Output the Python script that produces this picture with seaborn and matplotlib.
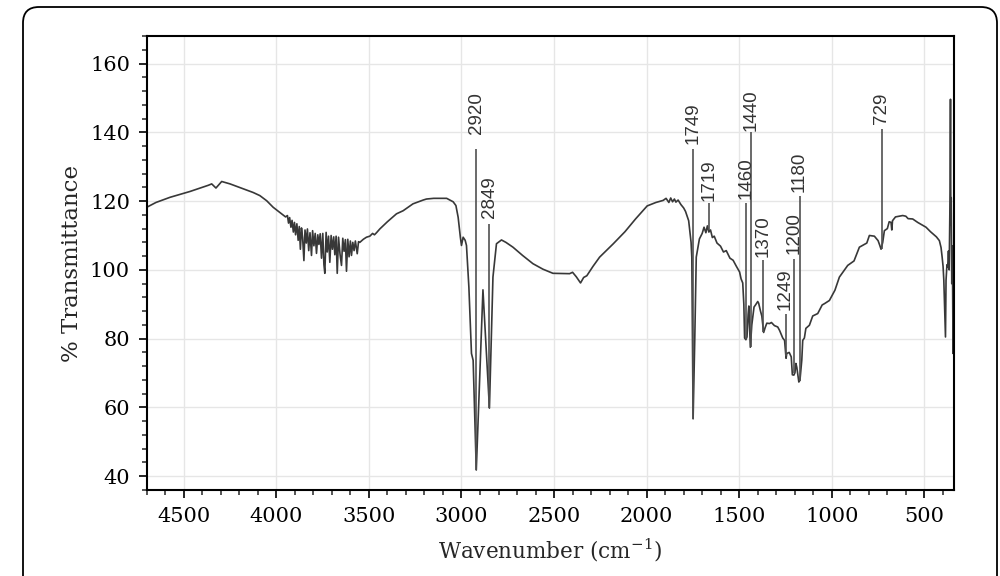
#!/usr/bin/env python3
"""
FTIR spectrum (% transmittance vs wavenumber) with labelled absorption bands
"""

import numpy as np
import pandas as pd
import matplotlib
matplotlib.use('Agg')
import matplotlib.pyplot as plt
import matplotlib.patches as mpatches
from matplotlib.transforms import IdentityTransform
from matplotlib.ticker import MultipleLocator
import seaborn as sns

# Spectrum (wavenumber in cm-1, % transmittance)
wavenumber = [
    4700, 4650, 4574, 4466, 4367, 4349, 4326, 4295, 4250, 4190, 4125, 4089, 4052, 4017, 3981, 3950,
    3940, 3934, 3928, 3921, 3915, 3908, 3902, 3896, 3889, 3882, 3876, 3870, 3864, 3858, 3851, 3845,
    3838, 3832, 3825, 3818, 3810, 3804, 3797, 3790, 3783, 3776, 3770, 3763, 3756, 3749, 3743, 3738,
    3731, 3725, 3718, 3711, 3704, 3697, 3690, 3684, 3677, 3671, 3664, 3656, 3648, 3641, 3634, 3627,
    3621, 3614, 3607, 3600, 3594, 3587, 3580, 3573, 3563, 3556, 3549, 3530, 3513, 3495, 3480, 3470,
    3459, 3441, 3400, 3351, 3315, 3262, 3207, 3189, 3150, 3117, 3080, 3045, 3030, 3018, 3006, 3000,
    2991, 2980, 2973, 2960, 2946, 2937, 2920, 2884, 2849, 2830, 2811, 2784, 2760, 2722, 2670, 2614,
    2560, 2506, 2416, 2400, 2380, 2357, 2340, 2323, 2290, 2254, 2180, 2117, 2060, 1997, 1950, 1911,
    1895, 1880, 1870, 1860, 1850, 1842, 1830, 1815, 1800, 1790, 1773, 1760, 1756, 1749, 1740, 1732,
    1715, 1700, 1690, 1680, 1672, 1664, 1655, 1645, 1635, 1620, 1601, 1585, 1570, 1550, 1533, 1515,
    1498, 1490, 1481, 1475, 1471, 1464, 1458, 1452, 1448, 1440, 1432, 1420, 1412, 1400, 1395, 1385,
    1378, 1368, 1360, 1351, 1336, 1326, 1310, 1292, 1282, 1265, 1255, 1247, 1243, 1230, 1219, 1213,
    1205, 1199, 1194, 1189, 1178, 1172, 1162, 1157, 1148, 1140, 1121, 1103, 1076, 1052, 1039, 1013,
    983, 959, 914, 880, 851, 811, 797, 770, 750, 740, 734, 725, 716, 700, 690, 680,
    676, 672, 656, 617, 600, 588, 563, 536, 491, 467, 435, 419, 410, 404, 399, 395,
    390, 386, 383, 378, 374, 370, 366, 363, 361, 359, 357, 355, 352, 349, 347, 345,
    342, 340,
]
transmittance = [
    118.2, 119.6, 121.1, 122.8, 124.6, 125.0, 123.8, 125.7, 125.0, 123.8, 122.5, 121.6, 120.1, 118.2, 116.7, 115.4,
    115.8, 113.6, 115.2, 112.4, 114.4, 111.0, 113.8, 110.2, 113.4, 108.6, 112.6, 106.0, 112.2, 109.4, 102.7, 111.6,
    107.8, 111.9, 105.6, 110.8, 104.2, 111.4, 107.0, 110.6, 104.8, 110.2, 107.4, 110.5, 103.4, 110.6, 101.6, 99.0,
    110.9, 105.2, 109.8, 102.2, 110.0, 106.0, 109.6, 104.4, 109.8, 99.0, 109.5, 104.6, 101.3, 109.2, 105.4, 108.8,
    99.6, 108.9, 103.8, 108.4, 104.2, 108.0, 105.6, 108.4, 104.7, 108.2, 108.0, 108.9, 109.5, 109.8, 110.6, 110.2,
    110.8, 111.9, 114.0, 116.3, 117.2, 119.2, 120.3, 120.6, 120.8, 120.8, 120.8, 119.8, 118.7, 115.3, 109.5, 107.1,
    109.5, 108.6, 107.1, 95.0, 75.7, 73.7, 41.8, 94.2, 59.8, 97.9, 107.6, 108.7, 108.0, 106.6, 104.2, 101.8,
    100.2, 99.0, 98.9, 99.3, 98.0, 96.2, 97.8, 98.3, 101.0, 103.7, 107.6, 111.1, 114.8, 118.6, 119.6, 120.2,
    120.8, 119.6, 120.9, 119.8, 120.6, 119.7, 120.3, 119.0, 118.0, 117.0, 114.3, 108.0, 103.7, 56.7, 80.0, 103.7,
    109.0, 110.6, 112.4, 110.8, 112.8, 111.0, 111.6, 109.4, 109.8, 107.8, 106.9, 105.2, 105.6, 103.4, 102.8, 101.0,
    99.4, 97.4, 96.2, 90.0, 80.2, 79.7, 80.5, 87.0, 89.5, 77.5, 84.0, 89.2, 89.8, 90.8, 90.3, 88.0,
    86.6, 81.8, 83.2, 84.5, 84.4, 84.7, 83.8, 83.4, 82.4, 80.2, 79.5, 74.3, 75.7, 76.0, 74.7, 69.5,
    69.4, 70.1, 72.8, 71.7, 67.4, 67.9, 73.8, 79.5, 80.2, 83.0, 83.9, 86.6, 87.3, 89.8, 90.2, 91.1,
    94.1, 97.9, 101.3, 102.6, 106.6, 107.8, 110.0, 109.8, 108.5, 107.0, 106.0, 108.0, 111.4, 112.0, 114.0, 113.8,
    111.6, 114.3, 115.4, 115.8, 115.6, 114.9, 114.8, 113.8, 112.4, 111.1, 109.6, 108.5, 106.5, 103.7, 101.0, 97.0,
    88.0, 80.5, 97.0, 101.5, 100.8, 105.5, 100.0, 114.0, 123.0, 149.6, 113.0, 121.0, 96.0, 107.0, 92.0, 75.7,
    88.0, 92.0,
]

# Band labels, where their leader lines sit, and how far the lines reach
peak_labels = ['2920', '2849', '1749', '1719', '1460', '1440', '1370', '1249', '1200', '1180', '729']
peak_x = [2919, 2851, 1750, 1665, 1462, 1435, 1369, 1250, 1205, 1174, 731]
line_bottom = [41.8, 59.8, 56.7, 111.5, 80.0, 77.5, 82.0, 75.0, 70.0, 67.6, 106.0]
line_top = [135.2, 113.4, 135.1, 119.3, 119.3, 140.0, 103.0, 87.3, 103.2, 121.6, 140.9]
label_base = [139.5, 115.2, 136.6, 120.1, 120.7, 140.4, 103.6, 88.2, 104.7, 122.7, 142.4]

x_ticks = [4500, 4000, 3500, 3000, 2500, 2000, 1500, 1000, 500]
y_ticks = [40, 60, 80, 100, 120, 140, 160]


def main():
    sns.set_style('white')
    plt.rcParams['font.family'] = ['DejaVu Serif']
    plt.rcParams['mathtext.fontset'] = 'dejavuserif'

    df = pd.DataFrame({'wn': wavenumber, 'T': transmittance})

    fig = plt.figure(figsize=(10, 5.76), dpi=100)
    ax = fig.add_axes([0.1467, 0.1493, 0.8073, 0.7882])

    sns.lineplot(data=df, x='wn', y='T', ax=ax, color='#383838', linewidth=1.2,
                 estimator=None, sort=False)

    # leader lines and rotated band labels
    ax.vlines(peak_x, line_bottom, line_top, color='#505050', linewidth=1.2)
    for lab, x, y in zip(peak_labels, peak_x, label_base):
        ax.text(x, y, lab, rotation=90, ha='center', va='bottom', fontsize=13.5,
                color='#333333', family=['Liberation Sans', 'DejaVu Sans'])

    ax.set_xlim(4700, 340)
    ax.set_ylim(36, 168)
    ax.set_xticks(x_ticks)
    ax.set_yticks(y_ticks)
    ax.xaxis.set_minor_locator(MultipleLocator(100))
    ax.yaxis.set_minor_locator(MultipleLocator(4))
    ax.tick_params(which='major', direction='out', length=6, width=1.2, labelsize=15,
                   colors='black', pad=6, bottom=True, left=True)
    ax.tick_params(which='minor', direction='out', length=3.5, width=1.1,
                   bottom=True, left=True)
    ax.grid(True, which='major', color='#e6e6e6', linewidth=1)
    for sp in ax.spines.values():
        sp.set_linewidth(1.5)
        sp.set_color('black')

    ax.set_xlabel('Wavenumber (cm$^{-1}$)', fontsize=15.5, labelpad=8)
    ax.set_ylabel('% Transmittance', fontsize=16.5, labelpad=5)

    # rounded outer frame around the whole panel
    frame = mpatches.FancyBboxPatch((23, -30), 974, 599,
                                    boxstyle='round,pad=0,rounding_size=16',
                                    transform=IdentityTransform(), fill=False,
                                    edgecolor='black', linewidth=1.3)
    fig.patches.append(frame)

    fig.savefig('out.png', dpi=100, facecolor='white')


if __name__ == '__main__':
    main()
